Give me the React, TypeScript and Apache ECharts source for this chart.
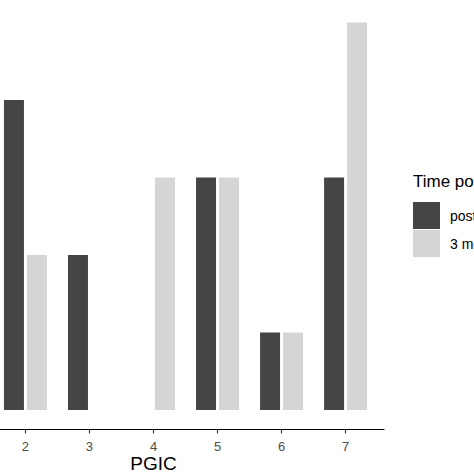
import { useEffect, useRef } from "react"
import * as echarts from "echarts"

// PGIC scores (1 is cropped off on the left in the reference)
const categories = [1, 2, 3, 4, 5, 6, 7]
const postValues = [0, 4, 2, 0, 3, 1, 3]
const threeMonthValues = [0, 2, 0, 3, 3, 1, 5]
const seriesNames = ["post", "3 months"]
const legendTitle = "Time point"
const axisName = "PGIC"

// the original figure is cropped: its panel starts 77px left of the picture
const CROP_LEFT = 77

export default function App() {
  const chartRef = useRef<HTMLDivElement>(null)

  useEffect(() => {
    if (!chartRef.current) return
    const chart = echarts.init(chartRef.current, null, { renderer: "svg" })

    const font = "Liberation Sans, Arial, sans-serif"

    const option = {
      animation: false,
      textStyle: { fontFamily: font },
      title: {
        text: legendTitle,
        left: 413 + CROP_LEFT,
        top: 173,
        padding: 0,
        textStyle: { fontSize: 17, fontWeight: "normal", color: "#000", fontFamily: font }
      },
      legend: {
        orient: "vertical",
        left: 413 + CROP_LEFT,
        top: 202,
        padding: 0,
        itemWidth: 27,
        itemHeight: 27,
        itemGap: 1,
        icon: "rect",
        data: seriesNames,
        textStyle: { fontSize: 14, color: "#000", padding: [0, 0, 0, 5], fontFamily: font }
      },
      grid: {
        left: 0,
        right: 90,
        top: 3,
        bottom: 44.5,
        containLabel: false,
        outerBoundsMode: "none"
      },
      xAxis: {
        type: "value",
        min: 0.4,
        max: 7.6,
        name: axisName,
        nameLocation: "middle",
        nameGap: 24,
        nameMoveOverlap: false,
        nameTextStyle: { fontSize: 19, color: "#000", fontFamily: font },
        axisLine: { show: true, onZero: false, lineStyle: { color: "#000", width: 1.1 } },
        axisTick: {
          show: true,
          length: 4,
          customValues: categories,
          lineStyle: { color: "#333", width: 1.1 }
        },
        axisLabel: {
          // label of score 1 lies outside the cropped picture
          customValues: categories.filter((c) => c > 1),
          fontSize: 13,
          color: "#4d4d4d",
          margin: 10,
          fontFamily: font
        },
        splitLine: { show: false }
      },
      yAxis: {
        type: "value",
        min: -0.25,
        max: 5.25,
        show: false,
        splitLine: { show: false }
      },
      series: [
        {
          name: seriesNames[0],
          type: "bar",
          barWidth: 20,
          barGap: "15%",
          itemStyle: { color: "#454545" },
          data: categories.map((c, i) => [c, postValues[i]])
        },
        {
          name: seriesNames[1],
          type: "bar",
          barWidth: 20,
          barGap: "15%",
          itemStyle: { color: "#d5d5d5" },
          data: categories.map((c, i) => [c, threeMonthValues[i]])
        }
      ]
    }

    chart.setOption(option)

    return () => {
      chart.dispose()
    }
  }, [])

  return (
    <div style={{ position: "fixed", left: 0, top: 0, width: 474, height: 474, overflow: "hidden", background: "#fff" }}>
      <div
        ref={chartRef}
        style={{ position: "absolute", left: -CROP_LEFT, top: 0, width: 474 + CROP_LEFT, height: 474 }}
      />
    </div>
  )
}
